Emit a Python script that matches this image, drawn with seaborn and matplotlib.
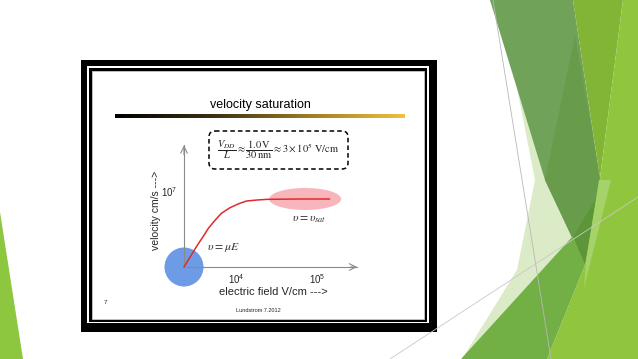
import matplotlib
matplotlib.use("Agg")
import matplotlib.pyplot as plt
import numpy as np
import seaborn as sns
from matplotlib.patches import Polygon, Rectangle, Ellipse, FancyBboxPatch
from matplotlib.colors import LinearSegmentedColormap

# data (schematic units: 1 = first tick / 10^7 level)
field = [0, 0.12, 0.24, 0.37, 0.47, 0.60, 0.72, 0.88, 1.05, 1.20, 1.40, 1.60, 2.20, 2.80]
velocity = [0, 0.15, 0.30, 0.45, 0.57, 0.69, 0.79, 0.87, 0.93, 0.97, 0.985, 0.995, 1.0, 1.0]
x_ticks = [1.0, 2.56]
x_tick_labels = ["$10^4$", "$10^5$"]
y_ticks = [1.0]
y_tick_labels = ["$10^7$"]

sns.set_theme(style="white")
plt.rcParams["font.family"] = ["Liberation Sans", "DejaVu Sans"]
plt.rcParams["mathtext.fontset"] = "custom"
plt.rcParams["mathtext.rm"] = "Liberation Sans"
plt.rcParams["mathtext.it"] = "Liberation Sans:italic"

W, H = 638, 359
fig = plt.figure(figsize=(W / 100, H / 100), dpi=100)
fig.patch.set_facecolor("white")

# background layer in pixel coordinates
bg = fig.add_axes([0, 0, 1, 1], zorder=0)
bg.axis("off")

# green theme shapes on the right / left
bg.add_patch(Polygon([(517, 88), (560, 170), (578, 245), (470, 359), (462, 359), (517, 270), (535, 180)],
                     color="#dcebc7", lw=0))
bg.add_patch(Polygon([(490, 0), (573, 0), (600, 178), (585, 265), (545, 180)], color="#70a25a", lw=0))
bg.add_patch(Polygon([(575, 35), (600, 178), (585, 265), (545, 180)], color="#689c4a", lw=0))
bg.add_patch(Polygon([(573, 237), (598, 195), (585, 265)], color="#5c9638", lw=0))
bg.add_patch(Polygon([(573, 0), (623, 0), (600, 178)], color="#82b535", lw=0))
bg.add_patch(Polygon([(623, 0), (638, 0), (638, 359), (547, 359), (585, 265), (600, 178)],
                     color="#90c63d", lw=0))
bg.add_patch(Polygon([(599, 180), (611, 180), (584, 288), (586, 262)], color="#a6d26a", lw=0))
bg.add_patch(Polygon([(461, 359), (573, 236), (585, 265), (547, 359)], color="#72b046", lw=0))
bg.add_patch(Polygon([(0, 212), (23, 359), (0, 359)], color="#8dc63f", lw=0))
bg.plot([493, 551], [0, 359], color="#b8b8b8", lw=0.6)
bg.plot([390, 638], [359, 197], color="#c8c8c8", lw=0.6)

# slide frame
bg.add_patch(Rectangle((81, 60), 356, 272, color="black", lw=0))
bg.add_patch(Rectangle((87, 66), 342, 257, color="white", lw=0))
bg.add_patch(Rectangle((89, 68), 338, 254, color="black", lw=0))
bg.add_patch(Rectangle((92, 71), 332, 248, facecolor="white", edgecolor="#c8c8c8", lw=0.6))

# title and gradient rule
bg.text(260, 105, "velocity saturation", ha="center", va="center", fontsize=9, color="black")
cmap = LinearSegmentedColormap.from_list("rule", ["#000000", "#3a2f10", "#9c7c22", "#f0c040"])
grad = np.linspace(0, 1, 256).reshape(1, -1)
bg.imshow(grad, cmap=cmap, extent=(115, 405, 118, 114), aspect="auto", zorder=2)

# dashed equation box
bg.add_patch(FancyBboxPatch((209, 131), 139, 38, boxstyle="round,pad=0,rounding_size=6",
                            facecolor="none", edgecolor="black", lw=1.1, ls=(0, (3, 2))))
bg.text(278, 150, r"$\dfrac{V_{DD}}{L} \approx \dfrac{1.0\,\mathrm{V}}{30\,\mathrm{nm}} \approx 3\times10^5\ \mathrm{V/cm}$",
        ha="center", va="center", fontsize=7.5, math_fontfamily="stix", color="#222222")

bg.text(105, 303, "7", ha="center", va="center", fontsize=4.5)
bg.text(258, 310, "Lundstrom 7.2012", ha="center", va="center", fontsize=4)

bg.set_xlim(0, W)
bg.set_ylim(H, 0)

# chart axes: origin at pixel (184, 267), 52 px per x unit, 68 px per y unit
ox, oy, sx, sy = 184, 267, 52, 68
xlim = (-0.5, 3.4)
ylim = (-0.4, 1.85)
left = ox + xlim[0] * sx
right = ox + xlim[1] * sx
bottom = oy - ylim[0] * sy
top = oy - ylim[1] * sy
ax = fig.add_axes([left / W, 1 - bottom / H, (right - left) / W, (bottom - top) / H], zorder=1)
ax.patch.set_alpha(0)

grey = "#8a8a8a"
ax.add_patch(Ellipse((0, 0), 2 * 19.5 / sx, 2 * 19.5 / sy, color="#6d9be6", lw=0, zorder=1))
ax.add_patch(Ellipse((2.33, 1.0), 72 / sx, 22 / sy, color="#f8b6bc", lw=0, zorder=1))

sns.lineplot(x=field, y=velocity, color="#e02a2a", lw=1.1, ax=ax, zorder=3)

ax.set_xlim(*xlim)
ax.set_ylim(*ylim)
for side in ["top", "right"]:
    ax.spines[side].set_visible(False)
ax.spines["left"].set_position(("data", 0))
ax.spines["bottom"].set_position(("data", 0))
ax.spines["left"].set_bounds(0, 1.79)
ax.spines["bottom"].set_bounds(0, 3.33)
for side in ["left", "bottom"]:
    ax.spines[side].set_color(grey)
    ax.spines[side].set_linewidth(0.8)
    ax.spines[side].set_zorder(2)
ax.annotate("", xy=(3.33, 0), xytext=(3.2, 0),
            arrowprops=dict(arrowstyle="->", color=grey, lw=0.8, shrinkA=0, shrinkB=0))
ax.annotate("", xy=(0, 1.79), xytext=(0, 1.65),
            arrowprops=dict(arrowstyle="->", color=grey, lw=0.8, shrinkA=0, shrinkB=0))

ax.set_xticks(x_ticks, x_tick_labels)
ax.set_yticks(y_ticks, [""])
ax.tick_params(axis="x", direction="inout", length=5, width=0.8, color=grey, labelsize=7, pad=1)
ax.tick_params(axis="y", direction="inout", length=10, width=0.8, color=grey)
ax.text(-0.13, 1.1, y_tick_labels[0], ha="right", va="center", fontsize=7)

ax.set_xlabel("electric field V/cm --->", fontsize=8, va="center")
ax.xaxis.set_label_coords(1.71, -0.37, transform=ax.transData)
ax.set_ylabel("velocity cm/s --->", fontsize=7.5, va="center")
ax.yaxis.set_label_coords(-0.54, 0.84, transform=ax.transData)

ax.text(0.44, 0.28, r"$\upsilon = \mu E$", fontsize=8.5, va="center", math_fontfamily="stix", color="#333333")
ax.text(2.08, 0.71, r"$\upsilon = \upsilon_{sat}$", fontsize=8.5, va="center", math_fontfamily="stix", color="#333333")

fig.savefig("out.png", dpi=100)
